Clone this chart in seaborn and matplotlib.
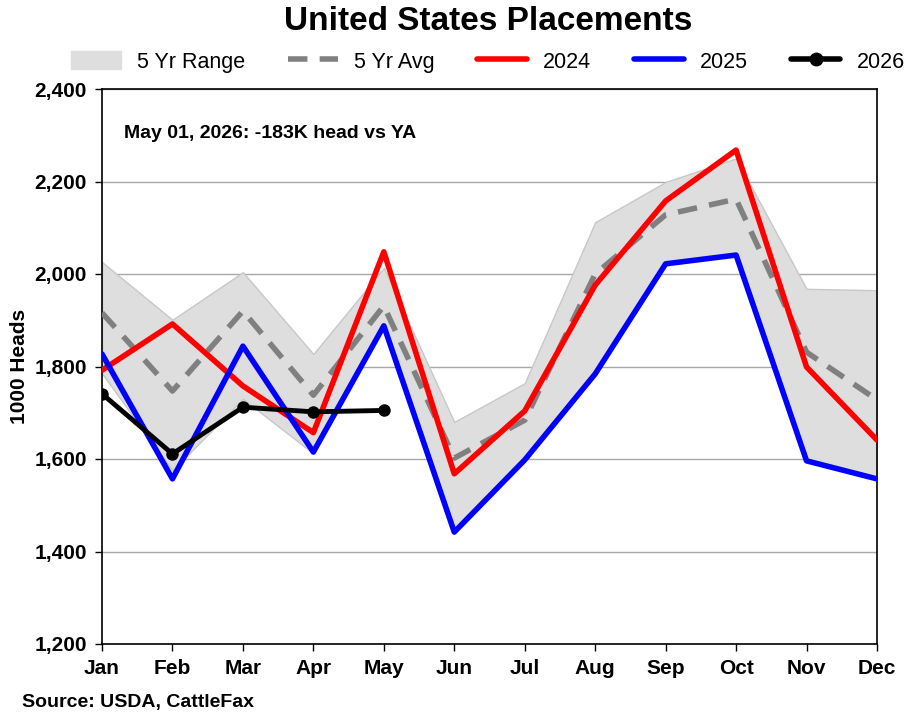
import numpy as np
import pandas as pd
import matplotlib
matplotlib.use("Agg")
import matplotlib.pyplot as plt
import seaborn as sns
from matplotlib.patches import Patch
from matplotlib.lines import Line2D

months = ["Jan", "Feb", "Mar", "Apr", "May", "Jun", "Jul", "Aug", "Sep", "Oct", "Nov", "Dec"]
range_hi = [2026, 1901, 2004, 1827, 2013, 1680, 1764, 2112, 2199, 2250, 1968, 1965]
range_lo = [1785, 1575, 1730, 1612, 1885, 1442, 1598, 1784, 2022, 2041, 1596, 1557]
avg5 = [1916, 1747, 1920, 1738, 1931, 1602, 1684, 2000, 2128, 2162, 1831, 1728]
y2024 = [1792, 1892, 1758, 1657, 2048, 1568, 1704, 1976, 2158, 2268, 1799, 1641]
y2025 = [1827, 1557, 1844, 1615, 1888, 1442, 1598, 1784, 2022, 2041, 1596, 1557]
y2026 = [1741, 1611, 1712, 1702, 1705]
yticks = [1200, 1400, 1600, 1800, 2000, 2200, 2400]

sns.set_theme(style="white")
plt.rcParams["font.family"] = ["Liberation Sans", "DejaVu Sans"]
plt.rcParams["text.color"] = "black"
plt.rcParams["axes.labelcolor"] = "black"
plt.rcParams["xtick.color"] = "black"
plt.rcParams["ytick.color"] = "black"

fig = plt.figure(figsize=(9.23, 7.24), dpi=100)
ax = fig.add_axes([102 / 923, 1 - 644 / 724, (877 - 102) / 923, (644 - 89) / 724])

x = np.arange(len(months))
ax.fill_between(x, range_lo, range_hi, facecolor="#DEDEDE", edgecolor="#C8C8C8", linewidth=1, zorder=1)

sns.lineplot(x=x, y=avg5, ax=ax, color="#808080", linewidth=4, zorder=3,
             linestyle=(0, (3.5, 2.2)))
sns.lineplot(x=x, y=y2024, ax=ax, color="#FF0000", linewidth=4, zorder=4)
sns.lineplot(x=x, y=y2025, ax=ax, color="#0000FF", linewidth=4, zorder=5)
sns.lineplot(x=x[:len(y2026)], y=y2026, ax=ax, color="black", linewidth=3.5, marker="o",
             markersize=9, markeredgewidth=0, zorder=6)

ax.set_xlim(0, 11)
ax.set_ylim(1200, 2400)
ax.set_yticks(yticks)
ax.set_yticklabels([f"{v:,}" for v in yticks])
ax.set_xticks(x)
ax.set_xticklabels(months)
ax.yaxis.grid(True, color="#A8A8A8", linewidth=1)
ax.xaxis.grid(False)
ax.set_axisbelow(True)
for s in ax.spines.values():
    s.set_color("black")
    s.set_linewidth(1.2)
ax.tick_params(axis="both", which="both", direction="out", length=5, width=1, color="black",
               labelcolor="black", labelsize=15, bottom=True, left=True, pad=6)
for lab in ax.get_xticklabels() + ax.get_yticklabels():
    lab.set_fontweight("bold")
ax.set_ylabel("1000 Heads", fontsize=15, fontweight="bold", labelpad=4, color="black")
ax.set_xlabel("")

ax.text(124 / 923, 1 - 133 / 724, "May 01, 2026: -183K head vs YA", transform=fig.transFigure,
        fontsize=14, fontweight="bold", va="center", ha="left", color="black")
fig.text(488 / 923, 1 - 22 / 724, "United States Placements", fontsize=24, fontweight="bold",
         ha="center", va="center", color="black")
fig.text(22 / 923, 1 - 703 / 724, "Source: USDA, CattleFax", fontsize=14, fontweight="bold",
         ha="left", va="center", color="black")

handles = [
    Patch(facecolor="#DEDEDE", edgecolor="#DEDEDE"),
    Line2D([], [], color="#808080", linewidth=4, linestyle=(0, (3.5, 2.2))),
    Line2D([], [], color="#FF0000", linewidth=4),
    Line2D([], [], color="#0000FF", linewidth=4),
    Line2D([], [], color="black", linewidth=4, marker="o", markersize=9),
]
labels = ["5 Yr Range", "5 Yr Avg", "2024", "2025", "2026"]
fig.legend(handles, labels, loc="center", bbox_to_anchor=(488 / 923, 1 - 62 / 724), ncol=5,
           frameon=False, fontsize=15.5, handlelength=2.3, handletextpad=0.75, columnspacing=2.0,
           handleheight=0.9, labelcolor="black")

fig.savefig("out.png", dpi=100)
